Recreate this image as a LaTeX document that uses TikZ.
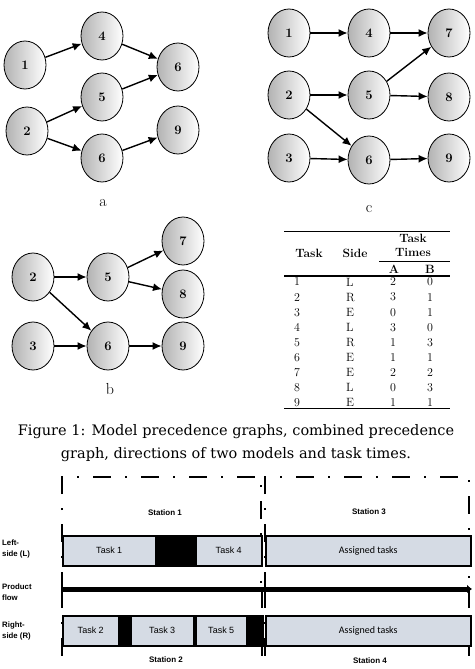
\documentclass[tikz,border=0pt]{standalone}
\usepackage{fontspec}
\usepackage{tikz}
\usetikzlibrary{arrows,arrows.meta,positioning,calc,shapes.geometric}
\newfontfamily\arialfont{Liberation Sans}
\newfontfamily\calibrifont{Carlito}
\newfontfamily\capfont{DejaVu Serif}
\definecolor{taskgray}{RGB}{213,219,228}

\begin{document}
\begin{tikzpicture}[x=1pt, y=-1pt,
    vertex/.style={ellipse, draw, thick, minimum width=42pt, minimum height=48pt, inner sep=0pt, left color=gray!60, right color=white, font=\bfseries\fontsize{13}{13}\selectfont},
    arrow/.style={line width=1.4pt, -{Latex[length=9pt, width=8pt]}},
    glabel/.style={font=\fontsize{16}{16}\selectfont},
    cell/.style={inner sep=0pt, font=\fontsize{12}{12}\selectfont},
    head/.style={inner sep=0pt, font=\bfseries\fontsize{12}{12}\selectfont},
    caption/.style={inner sep=0pt, font=\capfont\fontsize{14.5}{23}\selectfont},
    frame/.style={line width=2pt, dash pattern=on 18pt off 14pt on 2pt off 14pt},
    bar/.style={draw, line width=1.5pt, fill=taskgray, anchor=north west, inner sep=0pt, minimum height=30pt, font=\arialfont\fontsize{9}{9}\selectfont},
    idle/.style={bar, fill=black},
    flow/.style={line width=5pt, -{Latex[length=5pt, width=9pt]}},
    stlabel/.style={font=\arialfont\bfseries\fontsize{8}{8}\selectfont},
    side/.style={anchor=west, align=left, inner sep=0pt, font=\arialfont\bfseries\fontsize{7.8}{11}\selectfont}
]
\useasboundingbox (0,0) rectangle (474,669);

% graph a
\node[vertex] (a1) at (25,65) {1};
\node[vertex] (a4) at (102,36) {4};
\node[vertex] (a6) at (178,67) {6};
\node[vertex] (a5) at (102,97) {5};
\node[vertex] (a2) at (27,131) {2};
\node[vertex] (a6x) at (102,158) {6};
\node[vertex] (a9) at (178,130) {9};
\node[glabel] (la) at (103,203) {a};
\draw[arrow] (a1) -- (a4);
\draw[arrow] (a4) -- (a6);
\draw[arrow] (a5) -- (a6);
\draw[arrow] (a2) -- (a5);
\draw[arrow] (a2) -- (a6x);
\draw[arrow] (a6x) -- (a9);

% graph c
\node[vertex] (c1) at (289,33) {1};
\node[vertex] (c4) at (369,33) {4};
\node[vertex] (c7) at (449,33) {7};
\node[vertex] (c2) at (289,95) {2};
\node[vertex] (c5) at (369,95) {5};
\node[vertex] (c8) at (449,97) {8};
\node[vertex] (c3) at (289,158) {3};
\node[vertex] (c6) at (369,160) {6};
\node[vertex] (c9) at (449,158) {9};
\node[glabel] (lc) at (369,209) {c};
\draw[arrow] (c1) -- (c4);
\draw[arrow] (c4) -- (c7);
\draw[arrow] (c5) -- (c7);
\draw[arrow] (c2) -- (c5);
\draw[arrow] (c5) -- (c8);
\draw[arrow] (c2) -- (c6);
\draw[arrow] (c3) -- (c6);
\draw[arrow] (c6) -- (c9);

% graph b
\node[vertex] (b2) at (33,277) {2};
\node[vertex] (b5) at (108,277) {5};
\node[vertex] (b7) at (183,241) {7};
\node[vertex] (b8) at (183,294) {8};
\node[vertex] (b3) at (33,346) {3};
\node[vertex] (b6) at (108,346) {6};
\node[vertex] (b9) at (183,346) {9};
\node[glabel] (lb) at (110,389) {b};
\draw[arrow] (b2) -- (b5);
\draw[arrow] (b2) -- (b6);
\draw[arrow] (b5) -- (b7);
\draw[arrow] (b5) -- (b8);
\draw[arrow] (b3) -- (b6);
\draw[arrow] (b6) -- (b9);

% task times
\draw[line width=1pt] (284,231) -- (450,231);
\draw[line width=0.6pt] (379,261) -- (450,261);
\draw[line width=1.2pt] (284,276) -- (450,276);
\draw[line width=1pt] (284,408) -- (450,408);
\node[head] (hTask) at (309,253) {Task};
\node[head] (hSide) at (355,253) {Side};
\node[head] (hTimes1) at (413,238) {Task};
\node[head] (hTimes2) at (413,252) {Times};
\node[head] (hA) at (394,269) {A};
\node[head] (hB) at (430,269) {B};
\foreach \tk/\sd/\ta/\tb [count=\i from 0] in {1/L/2/0, 2/R/3/1, 3/E/0/1, 4/L/3/0, 5/R/1/3, 6/E/1/1, 7/E/2/2, 8/L/0/3, 9/E/1/1} {
  \node[cell, anchor=west] (rowTask\i) at (294,282+15.1*\i) {\tk};
  \node[cell, anchor=west] (rowSide\i) at (346,282+15.1*\i) {\sd};
  \node[cell] (rowA\i) at (393,282+15.1*\i) {\ta};
  \node[cell] (rowB\i) at (430,282+15.1*\i) {\tb};
}

% caption
\node[caption] (cap1) at (236,432) {Figure 1: Model precedence graphs, combined precedence};
\node[caption] (cap2) at (236,455) {graph, directions of two models and task times.};

% stations
\draw[frame] (62,590) -- (62,477) -- (261,477) -- (261,590);
\draw[frame] (62,590) -- (62,669);
\draw[frame] (262,590) -- (262,669);
\draw[frame] (265,590) -- (265,477) -- (469,477) -- (469,590);
\draw[frame] (265,590) -- (265,669);
\draw[frame] (469,590) -- (469,669);
\node[stlabel] (st1) at (165,513) {Station 1};
\node[stlabel] (st3) at (369,512) {Station 3};
\node[stlabel] (st2) at (166,660) {Station 2};
\node[stlabel] (st4) at (370,661) {Station 4};

% left side
\node[bar, minimum width=93pt] (task1) at (62,535) {Task 1};
\node[idle, minimum width=40pt] (idle1) at (155,535) {};
\node[bar, minimum width=66pt] (task4) at (195,535) {Task 4};
\node[bar, minimum width=205pt, font=\calibrifont\fontsize{10}{10}\selectfont] (assigned3) at (265,535) {Assigned tasks};

% right side
\node[bar, minimum width=56pt] (task2) at (62,615) {Task 2};
\node[idle, minimum width=12pt] (idle2) at (118,615) {};
\node[bar, minimum width=63pt] (task3) at (130,615) {Task 3};
\node[bar, minimum width=51pt] (task5) at (195,615) {Task 5};
\node[idle, minimum width=16pt] (idle3) at (246,615) {};
\node[bar, minimum width=205pt, font=\calibrifont\fontsize{10}{10}\selectfont] (assigned4) at (265,615) {Assigned tasks};

% product flow
\coordinate (flowstart) at (62,589);
\coordinate (flowend) at (472,589);
\draw[flow] (flowstart) -- (flowend);

\node[side] (leftside) at (2,548.5) {Left-\\side (L)};
\node[side] (flowlbl) at (2,592) {Product\\flow};
\node[side] (rightside) at (2,630.5) {Right-\\side (R)};
\end{tikzpicture}
\end{document}
